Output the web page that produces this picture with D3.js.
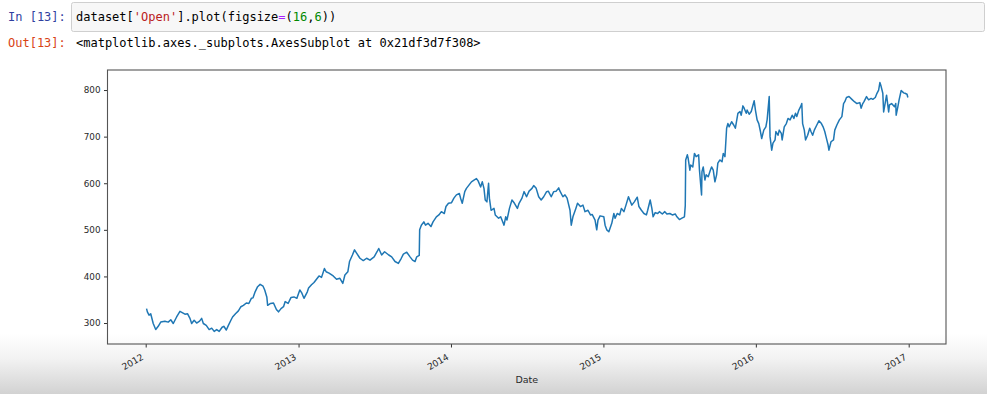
<!DOCTYPE html>
<html>
<head>
<meta charset="utf-8">
<script src="https://cdn.jsdelivr.net/npm/d3@7"></script>
<style>
  html, body { margin: 0; padding: 0; background: #fff; }
  svg { display: block; }
</style>
</head>
<body>
<svg id="chart" width="987" height="394"></svg>
<script>
// ---- data ----
const dates = [
"2012-01-03","2012-01-05","2012-01-09","2012-01-13","2012-01-19","2012-01-25","2012-01-31","2012-02-06","2012-02-16","2012-02-24",
"2012-03-01","2012-03-07","2012-03-15","2012-03-23","2012-04-04","2012-04-10","2012-04-16","2012-04-20","2012-04-26","2012-05-02",
"2012-05-09","2012-05-14","2012-05-18","2012-05-25","2012-06-01","2012-06-07","2012-06-13","2012-06-19","2012-06-25","2012-07-02",
"2012-07-06","2012-07-12","2012-07-17","2012-07-23","2012-07-27","2012-08-03","2012-08-10","2012-08-16","2012-08-22","2012-08-29",
"2012-09-04","2012-09-10","2012-09-14","2012-09-19","2012-09-25","2012-10-01","2012-10-08","2012-10-12","2012-10-17","2012-10-19",
"2012-10-26","2012-11-02","2012-11-09","2012-11-14","2012-11-20","2012-11-26","2012-11-30","2012-12-07","2012-12-14","2012-12-21",
"2012-12-28","2013-01-04","2013-01-09","2013-01-14","2013-01-22","2013-01-25","2013-02-01","2013-02-07","2013-02-13","2013-02-19",
"2013-02-25","2013-03-04","2013-03-08","2013-03-15","2013-03-25","2013-04-02","2013-04-10","2013-04-17","2013-04-22","2013-04-29",
"2013-05-03","2013-05-10","2013-05-15","2013-05-20","2013-05-28","2013-06-05","2013-06-13","2013-06-21","2013-07-01","2013-07-08",
"2013-07-12","2013-07-19","2013-07-26","2013-08-05","2013-08-12","2013-08-20","2013-08-28","2013-09-04","2013-09-09","2013-09-17",
"2013-09-25","2013-10-01","2013-10-07","2013-10-11","2013-10-17","2013-10-18","2013-10-22","2013-10-28","2013-11-01","2013-11-07",
"2013-11-14","2013-11-19","2013-11-27","2013-12-03","2013-12-09","2013-12-16","2013-12-20","2013-12-26","2014-01-02","2014-01-08",
"2014-01-14","2014-01-21","2014-01-24","2014-01-28","2014-02-03","2014-02-07","2014-02-13","2014-02-19","2014-02-26","2014-03-03",
"2014-03-07","2014-03-13","2014-03-17","2014-03-21","2014-03-24","2014-03-28","2014-04-01","2014-04-03","2014-04-07","2014-04-14",
"2014-04-17","2014-04-25","2014-04-30","2014-05-05","2014-05-08","2014-05-12","2014-05-15","2014-05-21","2014-05-27","2014-06-02",
"2014-06-09","2014-06-13","2014-06-20","2014-06-25","2014-07-01","2014-07-07","2014-07-14","2014-07-18","2014-07-24","2014-07-30",
"2014-08-05","2014-08-11","2014-08-18","2014-08-22","2014-08-29","2014-09-04","2014-09-10","2014-09-16","2014-09-19","2014-09-26",
"2014-10-01","2014-10-06","2014-10-13","2014-10-16","2014-10-20","2014-10-27","2014-10-31","2014-11-07","2014-11-13","2014-11-18",
"2014-11-25","2014-12-01","2014-12-05","2014-12-12","2014-12-16","2014-12-19","2014-12-24","2015-01-02","2015-01-05","2015-01-09",
"2015-01-14","2015-01-21","2015-01-26","2015-01-29","2015-02-03","2015-02-09","2015-02-13","2015-02-19","2015-02-24","2015-03-02",
"2015-03-05","2015-03-10","2015-03-16","2015-03-23","2015-03-27","2015-04-02","2015-04-08","2015-04-14","2015-04-17","2015-04-23",
"2015-04-27","2015-04-30","2015-05-05","2015-05-11","2015-05-15","2015-05-22","2015-05-28","2015-06-02","2015-06-09","2015-06-15",
"2015-06-22","2015-06-26","2015-07-02","2015-07-08","2015-07-14","2015-07-16","2015-07-17","2015-07-21","2015-07-23","2015-07-27",
"2015-07-29","2015-08-03","2015-08-07","2015-08-11","2015-08-17","2015-08-19","2015-08-24","2015-08-25","2015-08-28","2015-09-01",
"2015-09-04","2015-09-09","2015-09-14","2015-09-17","2015-09-21","2015-09-25","2015-09-29","2015-10-02","2015-10-07","2015-10-12",
"2015-10-15","2015-10-19","2015-10-23","2015-10-26","2015-10-29","2015-11-04","2015-11-09","2015-11-13","2015-11-19","2015-11-24",
"2015-11-27","2015-12-01","2015-12-04","2015-12-09","2015-12-11","2015-12-16","2015-12-21","2015-12-28","2015-12-31","2016-01-04",
"2016-01-08","2016-01-12","2016-01-15","2016-01-20","2016-01-25","2016-01-28","2016-02-02","2016-02-04","2016-02-08","2016-02-11",
"2016-02-16","2016-02-18","2016-02-23","2016-02-26","2016-03-02","2016-03-04","2016-03-09","2016-03-14","2016-03-18","2016-03-23",
"2016-03-28","2016-04-01","2016-04-05","2016-04-08","2016-04-13","2016-04-18","2016-04-20","2016-04-22","2016-04-26","2016-04-29",
"2016-05-04","2016-05-09","2016-05-12","2016-05-16","2016-05-20","2016-05-26","2016-05-31","2016-06-06","2016-06-10","2016-06-14",
"2016-06-17","2016-06-22","2016-06-24","2016-06-29","2016-07-05","2016-07-08","2016-07-13","2016-07-19","2016-07-25","2016-07-29",
"2016-08-01","2016-08-05","2016-08-11","2016-08-18","2016-08-24","2016-08-30","2016-09-06","2016-09-09","2016-09-13","2016-09-16",
"2016-09-22","2016-09-27","2016-10-03","2016-10-07","2016-10-13","2016-10-17","2016-10-21","2016-10-24","2016-10-26","2016-10-31",
"2016-11-02","2016-11-07","2016-11-09","2016-11-14","2016-11-16","2016-11-21","2016-11-28","2016-12-01","2016-12-02","2016-12-06",
"2016-12-09","2016-12-14","2016-12-20","2016-12-23","2016-12-28","2016-12-30"
];
const openValues = [
331,324,317,320,299,286,293,302,304,302,
307,299,313,325,319,320,310,299,306,300,
304,310,299,295,286,289,282,286,282,291,
293,285,295,306,313,320,326,335,338,343,
342,353,354,367,378,383,379,371,356,338,
342,343,329,324,331,335,346,342,355,356,
353,371,364,353,367,375,382,387,394,401,
398,417,410,407,401,394,396,385,403,410,
432,446,457,450,439,434,439,435,442,453,
460,446,453,446,442,432,428,439,448,452,
442,435,432,442,445,500,510,517,510,514,
507,517,528,532,539,535,550,557,558,568,
575,578,568,557,582,589,596,603,607,610,
605,592,603,589,564,560,600,568,542,546,
532,525,528,517,510,528,521,546,564,557,
546,557,568,582,571,583,589,595,589,571,
564,571,582,583,571,582,583,590,583,571,
575,568,542,510,528,546,557,550,553,539,
542,532,533,521,500,521,530,528,510,500,
496,514,535,525,535,532,546,539,553,571,
564,553,560,570,550,542,535,532,542,564,
546,528,537,535,539,534,539,534,535,532,
534,528,522,525,528,552,650,661,653,628,
639,635,664,657,661,628,575,625,635,607,
618,614,628,635,628,603,618,643,650,646,
664,657,718,728,721,732,725,718,750,754,
746,766,761,750,757,748,754,777,757,736,
728,711,696,714,721,736,786,700,671,686,
693,711,703,714,707,693,721,728,739,736,
746,739,750,743,757,766,771,728,714,693,
703,718,711,703,714,725,734,728,721,711,
700,682,671,689,693,714,725,736,743,771,
775,784,786,780,775,771,773,761,771,775,
786,779,782,780,784,793,800,816,811,793,
753,779,789,753,768,771,764,771,746,764,
779,799,794,793,791,784
];
const yTickValues = [300, 400, 500, 600, 700, 800];
const xTickLabels = ["2012", "2013", "2014", "2015", "2016", "2017"];
const xLabel = "Date";
const inPrompt = "In [13]:";
const outPrompt = "Out[13]:";
const outText = "<matplotlib.axes._subplots.AxesSubplot at 0x21df3d7f308>";

// ---- layout ----
const svg = d3.select("#chart");
const W = 987, H = 394;
const frame = { left: 107.5, right: 946, top: 70, bottom: 344 };

const parse = d3.timeParse("%Y-%m-%d");
const series = dates.map((d, i) => ({ date: parse(d), value: openValues[i] }));

// background + bottom video shading
const defs = svg.append("defs");
const grad = defs.append("linearGradient").attr("id", "shade")
  .attr("x1", 0).attr("y1", 0).attr("x2", 0).attr("y2", 1);
grad.append("stop").attr("offset", "0%").attr("stop-color", "#ffffff");
grad.append("stop").attr("offset", "40%").attr("stop-color", "#f3f3f3");
grad.append("stop").attr("offset", "100%").attr("stop-color", "#d2d2d2");
svg.append("rect").attr("width", W).attr("height", H).attr("fill", "#fff");
svg.append("rect").attr("x", 0).attr("y", 334).attr("width", W).attr("height", H - 334)
  .attr("fill", "url(#shade)");

// notebook chrome
const mono = "'DejaVu Sans Mono', 'Liberation Mono', monospace";
svg.append("text").attr("x", 8).attr("y", 20.5).attr("font-family", mono)
  .attr("font-size", 12).attr("fill", "#303F9F").text(inPrompt);
svg.append("rect").attr("x", 71.5).attr("y", 2.5).attr("width", 913).attr("height", 29)
  .attr("fill", "#f7f7f7").attr("stroke", "#cfcfcf").attr("rx", 2);
const code = svg.append("text").attr("x", 76).attr("y", 20.5).attr("font-family", mono)
  .attr("font-size", 12).attr("fill", "#000")
  .attr("xml:space", "preserve");
[["dataset[", "#000"], ["'Open'", "#BA2121"], ["].plot(figsize", "#000"], ["=", "#AA22FF"],
 ["(", "#000"], ["16", "#008800"], [",", "#000"], ["6", "#008800"], ["))", "#000"]]
  .forEach(([t, c]) => code.append("tspan").attr("fill", c).text(t));
svg.append("text").attr("x", 8).attr("y", 46.5).attr("font-family", mono)
  .attr("font-size", 12).attr("fill", "#D84315").text(outPrompt);
svg.append("text").attr("x", 76).attr("y", 46.5).attr("font-family", mono)
  .attr("font-size", 12).attr("fill", "#000").text(outText);

// scales
const x = d3.scaleTime()
  .domain([parse("2012-01-01"), parse("2017-01-01")])
  .range([145.7, 908.7]);
const y = d3.scaleLinear().domain([255, 843]).range([frame.bottom, frame.top]);

const sans = "'DejaVu Sans', sans-serif";

// line
const line = d3.line().x(d => x(d.date)).y(d => y(d.value)).curve(d3.curveLinear);
svg.append("path").datum(series)
  .attr("d", line).attr("fill", "none").attr("stroke", "#1f77b4")
  .attr("stroke-width", 1.5).attr("stroke-linejoin", "round");

// y axis
const yAxis = d3.axisLeft(y).tickValues(yTickValues).tickSize(3.5).tickPadding(3.5)
  .tickFormat(d3.format("d"));
const gy = svg.append("g").attr("transform", `translate(${frame.left},0)`).call(yAxis);
gy.select(".domain").remove();
gy.selectAll("line").attr("stroke", "#333");
gy.selectAll("text").attr("font-family", sans).attr("font-size", 8.8).attr("fill", "#2a2a2a");

// x axis
const yearDates = xTickLabels.map(s => parse(s + "-01-01"));
const xAxis = d3.axisBottom(x).tickValues(yearDates).tickSize(3.5)
  .tickFormat((d, i) => xTickLabels[i]);
const gx = svg.append("g").attr("transform", `translate(0,${frame.bottom})`).call(xAxis);
gx.select(".domain").remove();
gx.selectAll("line").attr("stroke", "#333");
gx.selectAll("text")
  .attr("font-family", sans).attr("font-size", 9).attr("fill", "#2a2a2a")
  .attr("text-anchor", "end")
  .attr("y", 0).attr("dy", 0)
  .attr("transform", "translate(-2,14.8) rotate(-30)");

// frame (spines)
svg.append("rect").attr("x", frame.left).attr("y", frame.top)
  .attr("width", frame.right - frame.left).attr("height", frame.bottom - frame.top)
  .attr("fill", "none").attr("stroke", "#555").attr("stroke-width", 1.1);

// x label
svg.append("text").attr("x", (frame.left + frame.right) / 2).attr("y", 382.5)
  .attr("text-anchor", "middle").attr("font-family", sans).attr("font-size", 9.5)
  .attr("fill", "#2a2a2a").text(xLabel);
</script>
</body>
</html>
